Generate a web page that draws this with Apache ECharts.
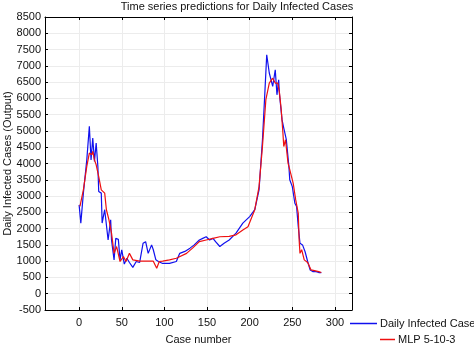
<!DOCTYPE html>
<html>
<head>
<meta charset="utf-8">
<script src="https://cdn.jsdelivr.net/npm/echarts@6/dist/echarts.min.js"></script>
<style>
  html, body { margin: 0; padding: 0; background: #fff; }
  #chart { width: 474px; height: 345px; }
</style>
</head>
<body>
<div id="chart"></div>
<script>
// Observed daily infected cases by case number
const observedCase = [0, 2, 5, 9, 12, 14, 16, 18, 20, 22, 23, 26, 27, 30, 34, 37, 38, 41, 43, 46, 48, 50, 53, 56, 59, 63, 67, 71, 75, 78, 81, 85, 87, 90, 93, 98, 106, 114, 118, 124, 130, 135, 141, 145, 149, 153, 157, 160, 165, 170, 176, 184, 192, 200, 206, 211, 215, 218, 220, 223, 225, 227, 230, 232, 234, 235, 238, 240, 242, 243, 246, 247, 250, 253, 255, 257, 259, 262, 265, 268, 271, 274, 278, 281, 284];
const observedValue = [2730, 2170, 3090, 4110, 5140, 4110, 4780, 4060, 4630, 3910, 3140, 3090, 2170, 2580, 1650, 2270, 1650, 1040, 1700, 1670, 1040, 1350, 910, 1090, 960, 810, 990, 960, 1550, 1600, 1240, 1500, 1350, 1040, 990, 930, 930, 990, 1240, 1300, 1400, 1500, 1650, 1700, 1750, 1650, 1700, 1600, 1450, 1550, 1650, 1860, 2170, 2370, 2580, 3190, 4730, 6270, 7340, 6780, 6780, 6370, 6880, 6110, 6570, 6110, 5340, 5090, 5060, 4730, 3910, 3500, 3290, 2780, 2680, 2060, 1550, 1500, 1290, 990, 730, 680, 680, 650, 650];

// MLP 5-10-3 predictions by case number
const predictedCase = [1, 5, 9, 12, 15, 16, 18, 20, 23, 26, 30, 32, 35, 38, 41, 44, 48, 52, 55, 59, 63, 71, 82, 87, 91, 94, 98, 106, 114, 126, 133, 141, 149, 157, 165, 176, 184, 192, 198, 206, 211, 215, 219, 223, 227, 230, 233, 235, 237, 239, 240, 242, 245, 247, 249, 251, 254, 257, 258, 259, 261, 264, 268, 272, 276, 278, 281, 284];
const predictedValue = [2680, 3190, 3910, 4320, 4270, 4370, 4110, 3960, 3600, 3190, 3090, 2580, 2270, 1860, 1240, 1450, 990, 1140, 990, 1240, 1040, 1000, 1000, 1000, 780, 990, 1000, 1040, 1090, 1240, 1400, 1600, 1650, 1700, 1750, 1760, 1810, 1960, 2060, 2580, 3290, 4520, 5960, 6470, 6620, 6470, 6470, 6160, 5650, 4930, 4520, 4730, 4010, 3810, 3860, 3400, 2880, 2470, 1650, 1240, 1350, 1040, 960, 730, 710, 730, 680, 650];

const xTicks = [0, 50, 100, 150, 200, 250, 300];
const seriesNames = ['Daily Infected Cases', 'MLP 5-10-3'];

const pair = (xs, ys) => xs.map((x, i) => [x, ys[i]]);

const font = 'Liberation Sans, Arial, sans-serif';
const gridLine = { show: true, lineStyle: { color: '#ececec', width: 1 } };
const plainNumber = v => String(v);

const chart = echarts.init(document.getElementById('chart'), null, { renderer: 'canvas' });
chart.setOption({
  animation: false,
  backgroundColor: '#fff',
  title: {
    text: 'Time series predictions for Daily Infected Cases',
    left: 'center',
    top: 1,
    padding: 0,
    textStyle: { fontFamily: font, fontSize: 11, fontWeight: 'normal', color: '#111' }
  },
  grid: { left: 45, top: 17, right: 122, bottom: 35, containLabel: false, outerBoundsMode: 'none' },
  legend: [
    {
      data: [seriesNames[0]],
      left: 350, top: 318, padding: 0,
      icon: 'rect', itemWidth: 27, itemHeight: 1.5, itemGap: 3,
      textStyle: { fontFamily: font, fontSize: 11, color: '#111', padding: [0, 0, 0, -2] }
    },
    {
      data: [seriesNames[1]],
      left: 380, top: 334, padding: 0,
      icon: 'rect', itemWidth: 15, itemHeight: 1.5, itemGap: 3,
      textStyle: { fontFamily: font, fontSize: 11, color: '#111', padding: [0, 0, 0, -2] }
    }
  ],
  xAxis: [
    {
      type: 'value', min: -40, max: 320,
      name: 'Case number', nameLocation: 'middle', nameGap: 24, nameMoveOverlap: false,
      nameTextStyle: { fontFamily: font, fontSize: 11, color: '#111' },
      axisLine: { show: true, onZero: false, lineStyle: { color: '#000', width: 1 } },
      axisTick: { show: true, inside: true, length: 3, customValues: xTicks, lineStyle: { color: '#000' } },
      axisLabel: { customValues: xTicks, margin: 7, formatter: plainNumber, fontFamily: font, fontSize: 11, color: '#111' },
      splitLine: gridLine
    },
    {
      type: 'value', min: -40, max: 320, position: 'top',
      axisLine: { show: true, onZero: false, lineStyle: { color: '#000', width: 1 } },
      axisTick: { show: true, inside: true, length: 3, customValues: xTicks, lineStyle: { color: '#000' } },
      axisLabel: { show: false },
      splitLine: { show: false }
    }
  ],
  yAxis: [
    {
      type: 'value', min: -500, max: 8500, interval: 500,
      name: 'Daily Infected Cases (Output)', nameLocation: 'middle', nameGap: 32, nameRotate: 90,
      nameMoveOverlap: false,
      nameTextStyle: { fontFamily: font, fontSize: 11, color: '#111' },
      axisLine: { show: true, onZero: false, lineStyle: { color: '#000', width: 1 } },
      axisTick: { show: true, inside: true, length: 3, lineStyle: { color: '#000' } },
      axisLabel: { margin: 4, formatter: plainNumber, fontFamily: font, fontSize: 11, color: '#111' },
      splitLine: gridLine
    },
    {
      type: 'value', min: -500, max: 8500, interval: 500, position: 'right',
      axisLine: { show: true, onZero: false, lineStyle: { color: '#000', width: 1 } },
      axisTick: { show: true, inside: true, length: 3, lineStyle: { color: '#000' } },
      axisLabel: { show: false },
      splitLine: { show: false }
    }
  ],
  series: [
    {
      name: seriesNames[0], type: 'line',
      data: pair(observedCase, observedValue),
      showSymbol: false, symbol: 'none',
      lineStyle: { color: '#1010ee', width: 1.2 },
      itemStyle: { color: '#1010ee' },
      z: 2
    },
    {
      name: seriesNames[1], type: 'line',
      data: pair(predictedCase, predictedValue),
      showSymbol: false, symbol: 'none',
      lineStyle: { color: '#ee1010', width: 1.2 },
      itemStyle: { color: '#ee1010' },
      z: 3
    }
  ]
});
</script>
</body>
</html>
